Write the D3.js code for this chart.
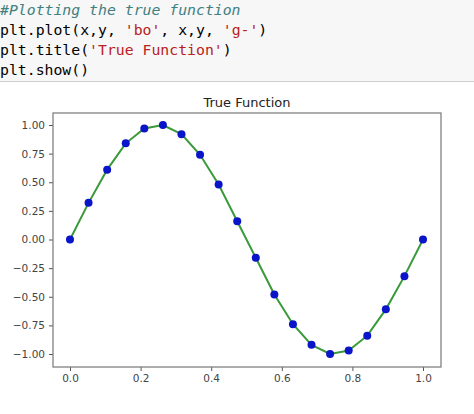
<!DOCTYPE html>
<html><head><meta charset="utf-8">
<script src="https://cdn.jsdelivr.net/npm/d3@7"></script>
<style>body{margin:0;background:#fff}</style>
</head><body><div id="chart"></div>
<script>
var xs = [0, 0.0526, 0.1053, 0.1579, 0.2105, 0.2632, 0.3158, 0.3684, 0.4211, 0.4737,
          0.5263, 0.5789, 0.6316, 0.6842, 0.7368, 0.7895, 0.8421, 0.8947, 0.9474, 1];
var ys = [0, 0.32, 0.61, 0.84, 0.97, 1.0, 0.92, 0.74, 0.48, 0.16,
          -0.16, -0.48, -0.74, -0.92, -1.0, -0.97, -0.84, -0.61, -0.32, 0];
var xTicks = [0, 0.2, 0.4, 0.6, 0.8, 1.0];
var yTicks = [1, 0.75, 0.5, 0.25, 0, -0.25, -0.5, -0.75, -1];

var w = 474, h = 414;
var svg = d3.select("#chart").append("svg").attr("width", w).attr("height", h);

// code cell
svg.append("rect").attr("x", 0).attr("y", 0).attr("width", w).attr("height", 81).attr("fill", "#f7f7f7");
svg.append("line").attr("x1", 0).attr("x2", w).attr("y1", 81.5).attr("y2", 81.5).attr("stroke", "#d0d0d0");
var code = [
  [["#Plotting the true function", "#408080", "italic"]],
  [["plt.plot(x,y, ", "#000"], ["'bo'", "#ba2121"], [", x,y, ", "#000"], ["'g-'", "#ba2121"], [")", "#000"]],
  [["plt.title(", "#000"], ["'True Function'", "#ba2121"], [")", "#000"]],
  [["plt.show()", "#000"]]
];
code.forEach(function(line, i) {
  var t = svg.append("text").attr("x", 0).attr("y", 15 + i * 20)
    .attr("font-family", "DejaVu Sans Mono").attr("font-size", 14.8);
  line.forEach(function(p) {
    t.append("tspan").text(p[0]).attr("fill", p[1]).attr("font-style", p[2] || "normal");
  });
});

// plot
var L = 53, R = 441, T = 113, B = 367;
var x = d3.scaleLinear().domain([0, 1]).range([70, 423]);
var y = d3.scaleLinear().domain([-1, 1]).range([354, 125]);

svg.append("text").attr("x", (L + R) / 2).attr("y", 107).attr("text-anchor", "middle")
  .attr("font-family", "DejaVu Sans").attr("font-size", 13).attr("fill", "#222").text("True Function");

var gx = svg.append("g").attr("transform", "translate(0," + B + ")")
  .call(d3.axisBottom(x).tickValues(xTicks).tickFormat(d3.format(".1f")).tickSizeOuter(0).tickSize(4).tickPadding(4));
var gy = svg.append("g").attr("transform", "translate(" + L + ",0)")
  .call(d3.axisLeft(y).tickValues(yTicks).tickFormat(function(d){ return d3.format(".2f")(d).replace("-", "\u2212"); }).tickSizeOuter(0).tickSize(4).tickPadding(4));
[gx, gy].forEach(function(g) {
  g.select(".domain").remove();
  g.selectAll("line").attr("stroke", "#555");
  g.selectAll("text").attr("font-family", "DejaVu Sans").attr("font-size", 10.5).attr("fill", "#444");
});
svg.append("rect").attr("x", L).attr("y", T).attr("width", R - L).attr("height", B - T)
  .attr("fill", "none").attr("stroke", "#777").attr("stroke-width", 1.2);

var pts = xs.map(function(d, i) { return [d, ys[i]]; });
svg.append("path").datum(pts)
  .attr("d", d3.line().x(function(d){ return x(d[0]); }).y(function(d){ return y(d[1]); }))
  .attr("fill", "none").attr("stroke", "#3a9a3a").attr("stroke-width", 2);
svg.selectAll("circle").data(pts).enter().append("circle")
  .attr("cx", function(d){ return x(d[0]); }).attr("cy", function(d){ return y(d[1]); })
  .attr("r", 4).attr("fill", "#0a14c8");
</script></body></html>
